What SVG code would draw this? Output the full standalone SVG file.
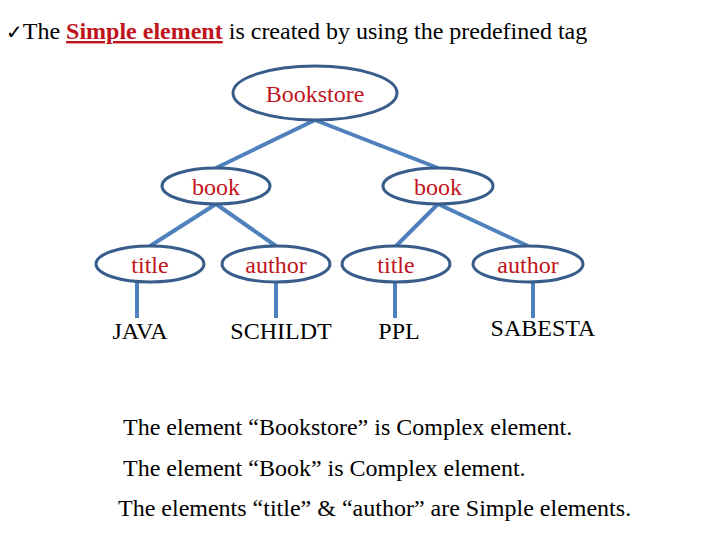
<svg xmlns="http://www.w3.org/2000/svg" width="720" height="540" viewBox="0 0 720 540">
<style>
.n{fill:#fff;stroke:#385d8a;stroke-width:3}
.l{stroke:#4f81bd;stroke-width:4;fill:none}
.r{font-family:"Liberation Serif",serif;font-size:24px;fill:#c0141c;text-anchor:middle}
.b{font-family:"Liberation Serif",serif;font-size:24px;fill:#000}
</style>
<rect width="720" height="540" fill="#fff"/>
<text class="b" x="6" y="39"><tspan font-family="DejaVu Sans" font-size="20">✓</tspan>The <tspan fill="#c0141c" font-weight="bold" text-decoration="underline">Simple element</tspan> is created by using the predefined tag</text>
<g id="connectors">
<path class="l" d="M315 120L216 168M315 120L438 168M216 204L150 246M216 204L276 246M438 204L396 246M438 204L528 246M137 282V318M276 282V318M395 282V318M533 282V318"/>
</g>
<g id="bookstore"><ellipse class="n" cx="315" cy="93" rx="82" ry="27"/><text class="r" x="315" y="102">Bookstore</text></g>
<g id="book1"><ellipse class="n" cx="216" cy="186" rx="54" ry="18"/><text class="r" x="216" y="195">book</text></g>
<g id="book2"><ellipse class="n" cx="438" cy="186" rx="55" ry="18"/><text class="r" x="438" y="195">book</text></g>
<g id="title1"><ellipse class="n" cx="150" cy="264" rx="54" ry="18"/><text class="r" x="150" y="273">title</text></g>
<g id="author1"><ellipse class="n" cx="276" cy="264" rx="54" ry="18"/><text class="r" x="276" y="273">author</text></g>
<g id="title2"><ellipse class="n" cx="396" cy="264" rx="54" ry="18"/><text class="r" x="396" y="273">title</text></g>
<g id="author2"><ellipse class="n" cx="528" cy="264" rx="55" ry="18"/><text class="r" x="528" y="273">author</text></g>
<g id="java"><text class="b" x="140" y="339" text-anchor="middle">JAVA</text></g>
<g id="schildt"><text class="b" x="281" y="339" text-anchor="middle">SCHILDT</text></g>
<g id="ppl"><text class="b" x="399" y="339" text-anchor="middle">PPL</text></g>
<g id="sabesta"><text class="b" x="543" y="336" text-anchor="middle">SABESTA</text></g>
<text class="b" x="123" y="435">The element “Bookstore” is Complex element.</text>
<text class="b" x="123" y="476">The element “Book” is Complex element.</text>
<text class="b" x="118" y="516">The elements “title” &amp; “author” are Simple elements.</text>
</svg>
